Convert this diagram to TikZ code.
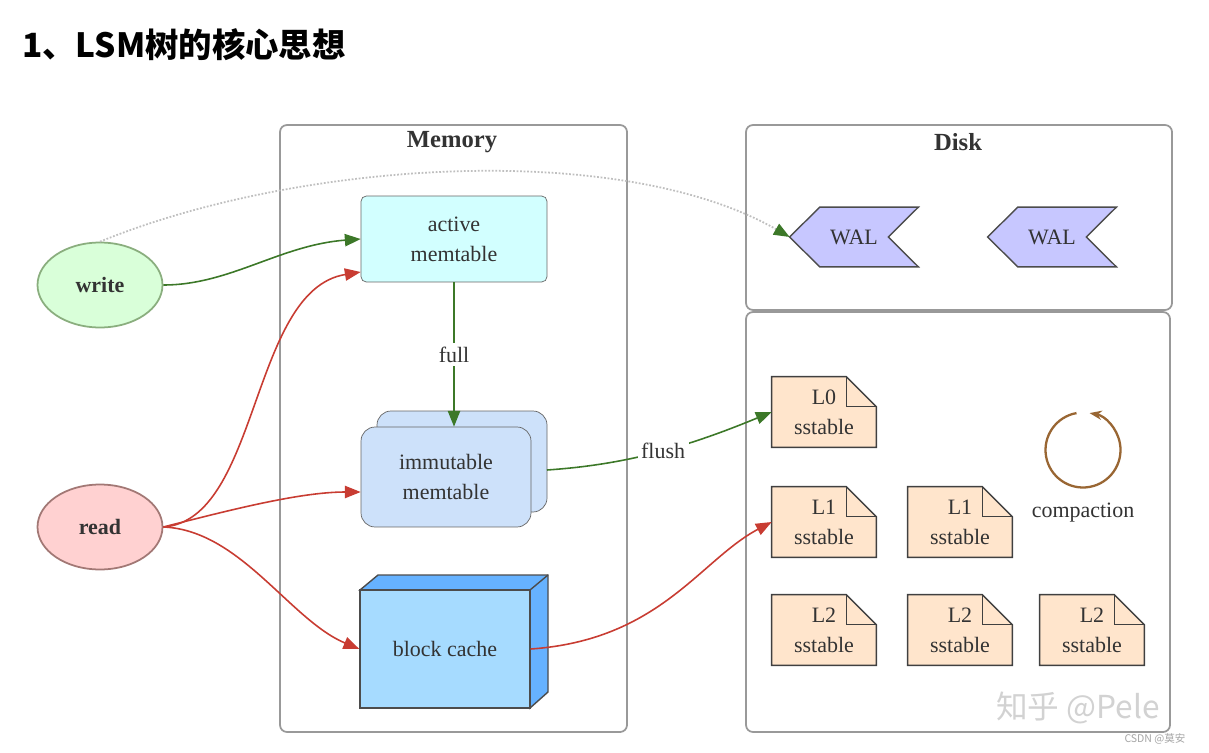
\documentclass[tikz,border=0pt]{standalone}
\usepackage{fontspec}
\setmainfont{Liberation Serif}
\newfontfamily\cjk{Noto Sans CJK SC}
\usetikzlibrary{arrows.meta,shapes.geometric}
\definecolor{grn}{RGB}{60,120,40}
\definecolor{rd}{RGB}{200,60,50}
\definecolor{cyanbox}{RGB}{210,255,255}
\definecolor{immbox}{RGB}{205,225,250}
\tikzset{
  box/.style={draw=gray!80,rounded corners=4pt,line width=1pt},
  lbl/.style={font=\fontsize{14}{16}\selectfont\bfseries,text=black!80},
  txt/.style={font=\fontsize{12.5}{17}\selectfont,align=center,text=black!80},
  ga/.style={draw=grn,line width=0.9pt,-{Triangle[length=9pt,width=7pt,fill=grn]}},
  ra/.style={draw=rd,line width=0.9pt,-{Triangle[length=9pt,width=7pt,fill=rd]}},
  sst/.style={minimum width=2.08cm,minimum height=1.4cm,txt},
}
\newcommand{\docshape}[1]{%
  \draw[draw=black!75,fill=orange!20,line width=0.8pt]
    (#1.south west) -- (#1.north west) -- ([xshift=-0.6cm]#1.north east)
    -- ([yshift=-0.6cm]#1.north east) -- (#1.south east) -- cycle;
  \draw[draw=black!75,line width=0.8pt] ([xshift=-0.6cm]#1.north east)
    -- ([xshift=-0.6cm,yshift=-0.6cm]#1.north east) -- ([yshift=-0.6cm]#1.north east);}
\newcommand{\walshape}[1]{%
  \draw[draw=black!70,fill=blue!22,line width=0.8pt]
    ([xshift=0.6cm]#1.north west) -- (#1.north east) -- ([xshift=-0.6cm]#1.east)
    -- (#1.south east) -- ([xshift=0.6cm]#1.south west) -- (#1.west) -- cycle;}
\begin{document}
\begin{tikzpicture}[x=0.02cm,y=-0.02cm]
\useasboundingbox (0,0) rectangle (1209,753);
\fill[white] (0,0) rectangle (1209,753);
\node[anchor=west,font=\cjk\bfseries\fontsize{19}{22}\selectfont] (title) at (16,45) {1、LSM树的核心思想};
% boxes
\draw[box] (280,125) rectangle (627,732);
\node[lbl] (mem) at (452,142) {Memory};
\draw[box] (746,125) rectangle (1172,310);
\node[lbl] (disk) at (958,142) {Disk};
\draw[box] (746,312) rectangle (1170,732);
% clients
\node[ellipse,draw=grn!60,fill=green!15,line width=1pt,minimum width=2.5cm,minimum height=1.7cm,txt,font=\fontsize{12.5}{15}\selectfont\bfseries] (write) at (100,285) {write};
\node[ellipse,draw=rd!50!black!60,fill=red!18,line width=1pt,minimum width=2.5cm,minimum height=1.7cm,txt,font=\fontsize{12.5}{15}\selectfont\bfseries] (read) at (100,527) {read};
% memory
\node[draw=black!60,fill=cyanbox,rounded corners=3pt,minimum width=3.72cm,minimum height=1.72cm,txt] (active) at (454,239) {active\\memtable};
\draw[draw=black!60,fill=immbox,rounded corners=8pt] (377,411) rectangle (547,512);
\node[draw=black!60,fill=immbox,rounded corners=8pt,minimum width=3.4cm,minimum height=2cm,txt] (immu) at (446,477) {immutable\\memtable};
\draw[draw=black!70,fill=blue!50!cyan!60,line width=0.8pt] (360,590) -- (378,575) -- (548,575) -- (548,692) -- (530,708) -- (530,590) -- cycle;
\draw[draw=black!70,line width=0.8pt] (530,590) -- (548,575);
\node[draw=black!70,fill=blue!40!cyan!35,line width=0.8pt,minimum width=3.4cm,minimum height=2.36cm,txt] (cache) at (445,649) {block cache};
% WAL
\node[minimum width=2.56cm,minimum height=1.18cm] (wal1) at (854,237) {};
\walshape{wal1}
\node[txt] at (wal1) {WAL};
\node[minimum width=2.56cm,minimum height=1.18cm] (wal2) at (1052,237) {};
\walshape{wal2}
\node[txt] at (wal2) {WAL};
% sstables
\foreach \n/\x/\y/\t in {l0/824/412/L0, l1a/824/522/L1, l1b/960/522/L1, l2a/824/630/L2, l2b/960/630/L2, l2c/1092/630/L2}{
  \node[sst] (\n) at (\x,\y) {};
  \docshape{\n}
  \node[txt] at (\n) {\t\\sstable};
}
% compaction
\node[circle,minimum size=1.5cm] (cmp) at (1083,450) {};
\draw[draw=brown!80!black,line width=1.3pt,-{Stealth[length=7pt]}] ([shift={(100:0.75cm)}]cmp.center) arc[start angle=100,end angle=440,radius=0.75cm];
\node[txt] (cmplbl) at (1083,513) {compaction};
% connectors
\draw[densely dotted,draw=gray!50,line width=1pt,-{Triangle[length=9pt,width=7pt,color=grn]}] (write.north) .. controls (300,160) and (620,140) .. (wal1.west);
\draw[ga] (write.east) .. controls (230,285) and (280,245) .. (active.west);
\draw[ga] (active.south) -- node[fill=white,txt,inner sep=2pt] (full) {full} (immu.north -| active.south);
\draw[ga] (547,470) .. controls (620,465) and (680,450) .. node[fill=white,txt,inner sep=2pt,pos=0.55] (flush) {flush} (l0.west);
\draw[ra] (read.east) .. controls (260,520) and (250,290) .. (active.west |- 0,272);
\draw[ra] (read.east) .. controls (230,510) and (300,492) .. (immu.west |- 0,492);
\draw[ra] (read.east) .. controls (240,530) and (290,620) .. (cache.west);
\draw[ra] (cache.east) .. controls (660,640) and (700,560) .. (l1a.west);
% watermarks
\node[font=\cjk\fontsize{18}{20}\selectfont,text=gray!35] (wm) at (1078,708) {知乎 @Pele};
\node[font=\cjk\fontsize{6}{7}\selectfont,text=gray!70] (csdn) at (1155,739) {CSDN @莫安};
\end{tikzpicture}
\end{document}
